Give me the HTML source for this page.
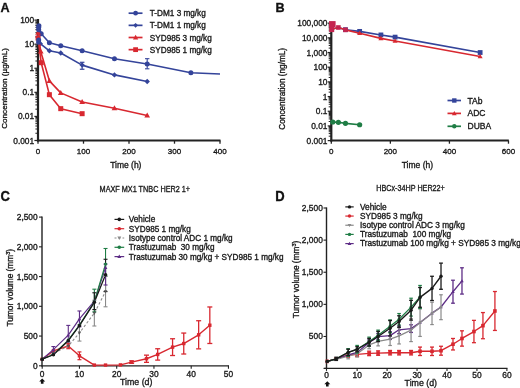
<!DOCTYPE html>
<html><head><meta charset="utf-8"><style>
html,body{margin:0;padding:0;background:#fff;}
svg{display:block;font-family:"Liberation Sans", sans-serif;filter:blur(0.3px);}
text{stroke:#161616;stroke-width:0.33px;}
</style></head><body>
<svg width="520" height="388" viewBox="0 0 520 388">
<rect width="520" height="388" fill="#fff"/>
<text x="0.60" y="11.80" font-size="12.6" text-anchor="start" font-weight="bold" fill="#111" >A</text>
<line x1="38.00" y1="19.00" x2="38.00" y2="141.50" stroke="#222" stroke-width="2.2" />
<line x1="34.40" y1="140.50" x2="38.00" y2="140.50" stroke="#222" stroke-width="1.2" />
<line x1="35.40" y1="133.25" x2="38.00" y2="133.25" stroke="#222" stroke-width="1.0" />
<line x1="35.40" y1="129.01" x2="38.00" y2="129.01" stroke="#222" stroke-width="1.0" />
<line x1="35.40" y1="126.00" x2="38.00" y2="126.00" stroke="#222" stroke-width="1.0" />
<line x1="35.40" y1="123.67" x2="38.00" y2="123.67" stroke="#222" stroke-width="1.0" />
<line x1="35.40" y1="121.76" x2="38.00" y2="121.76" stroke="#222" stroke-width="1.0" />
<line x1="35.40" y1="120.15" x2="38.00" y2="120.15" stroke="#222" stroke-width="1.0" />
<line x1="35.40" y1="118.75" x2="38.00" y2="118.75" stroke="#222" stroke-width="1.0" />
<line x1="35.40" y1="117.52" x2="38.00" y2="117.52" stroke="#222" stroke-width="1.0" />
<line x1="34.40" y1="116.42" x2="38.00" y2="116.42" stroke="#222" stroke-width="1.2" />
<line x1="35.40" y1="109.17" x2="38.00" y2="109.17" stroke="#222" stroke-width="1.0" />
<line x1="35.40" y1="104.93" x2="38.00" y2="104.93" stroke="#222" stroke-width="1.0" />
<line x1="35.40" y1="101.92" x2="38.00" y2="101.92" stroke="#222" stroke-width="1.0" />
<line x1="35.40" y1="99.59" x2="38.00" y2="99.59" stroke="#222" stroke-width="1.0" />
<line x1="35.40" y1="97.68" x2="38.00" y2="97.68" stroke="#222" stroke-width="1.0" />
<line x1="35.40" y1="96.07" x2="38.00" y2="96.07" stroke="#222" stroke-width="1.0" />
<line x1="35.40" y1="94.67" x2="38.00" y2="94.67" stroke="#222" stroke-width="1.0" />
<line x1="35.40" y1="93.44" x2="38.00" y2="93.44" stroke="#222" stroke-width="1.0" />
<line x1="34.40" y1="92.34" x2="38.00" y2="92.34" stroke="#222" stroke-width="1.2" />
<line x1="35.40" y1="85.09" x2="38.00" y2="85.09" stroke="#222" stroke-width="1.0" />
<line x1="35.40" y1="80.85" x2="38.00" y2="80.85" stroke="#222" stroke-width="1.0" />
<line x1="35.40" y1="77.84" x2="38.00" y2="77.84" stroke="#222" stroke-width="1.0" />
<line x1="35.40" y1="75.51" x2="38.00" y2="75.51" stroke="#222" stroke-width="1.0" />
<line x1="35.40" y1="73.60" x2="38.00" y2="73.60" stroke="#222" stroke-width="1.0" />
<line x1="35.40" y1="71.99" x2="38.00" y2="71.99" stroke="#222" stroke-width="1.0" />
<line x1="35.40" y1="70.59" x2="38.00" y2="70.59" stroke="#222" stroke-width="1.0" />
<line x1="35.40" y1="69.36" x2="38.00" y2="69.36" stroke="#222" stroke-width="1.0" />
<line x1="34.40" y1="68.26" x2="38.00" y2="68.26" stroke="#222" stroke-width="1.2" />
<line x1="35.40" y1="61.01" x2="38.00" y2="61.01" stroke="#222" stroke-width="1.0" />
<line x1="35.40" y1="56.77" x2="38.00" y2="56.77" stroke="#222" stroke-width="1.0" />
<line x1="35.40" y1="53.76" x2="38.00" y2="53.76" stroke="#222" stroke-width="1.0" />
<line x1="35.40" y1="51.43" x2="38.00" y2="51.43" stroke="#222" stroke-width="1.0" />
<line x1="35.40" y1="49.52" x2="38.00" y2="49.52" stroke="#222" stroke-width="1.0" />
<line x1="35.40" y1="47.91" x2="38.00" y2="47.91" stroke="#222" stroke-width="1.0" />
<line x1="35.40" y1="46.51" x2="38.00" y2="46.51" stroke="#222" stroke-width="1.0" />
<line x1="35.40" y1="45.28" x2="38.00" y2="45.28" stroke="#222" stroke-width="1.0" />
<line x1="34.40" y1="44.18" x2="38.00" y2="44.18" stroke="#222" stroke-width="1.2" />
<line x1="35.40" y1="36.93" x2="38.00" y2="36.93" stroke="#222" stroke-width="1.0" />
<line x1="35.40" y1="32.69" x2="38.00" y2="32.69" stroke="#222" stroke-width="1.0" />
<line x1="35.40" y1="29.68" x2="38.00" y2="29.68" stroke="#222" stroke-width="1.0" />
<line x1="35.40" y1="27.35" x2="38.00" y2="27.35" stroke="#222" stroke-width="1.0" />
<line x1="35.40" y1="25.44" x2="38.00" y2="25.44" stroke="#222" stroke-width="1.0" />
<line x1="35.40" y1="23.83" x2="38.00" y2="23.83" stroke="#222" stroke-width="1.0" />
<line x1="35.40" y1="22.43" x2="38.00" y2="22.43" stroke="#222" stroke-width="1.0" />
<line x1="35.40" y1="21.20" x2="38.00" y2="21.20" stroke="#222" stroke-width="1.0" />
<line x1="34.40" y1="20.10" x2="38.00" y2="20.10" stroke="#222" stroke-width="1.2" />
<text x="34.20" y="143.50" font-size="8.4" text-anchor="end" font-weight="normal" fill="#1c1c1c" >0.001</text>
<text x="34.20" y="119.42" font-size="8.4" text-anchor="end" font-weight="normal" fill="#1c1c1c" >0.01</text>
<text x="34.20" y="95.34" font-size="8.4" text-anchor="end" font-weight="normal" fill="#1c1c1c" >0.1</text>
<text x="34.20" y="71.26" font-size="8.4" text-anchor="end" font-weight="normal" fill="#1c1c1c" >1</text>
<text x="34.20" y="47.18" font-size="8.4" text-anchor="end" font-weight="normal" fill="#1c1c1c" >10</text>
<text x="34.20" y="23.10" font-size="8.4" text-anchor="end" font-weight="normal" fill="#1c1c1c" >100</text>
<line x1="37.00" y1="140.50" x2="220.50" y2="140.50" stroke="#222" stroke-width="1.9" />
<line x1="38.00" y1="140.50" x2="38.00" y2="143.70" stroke="#222" stroke-width="1.3" />
<text x="38.00" y="154.00" font-size="8" text-anchor="middle" font-weight="normal" fill="#1c1c1c" >0</text>
<line x1="83.50" y1="140.50" x2="83.50" y2="143.70" stroke="#222" stroke-width="1.3" />
<text x="83.50" y="154.00" font-size="8" text-anchor="middle" font-weight="normal" fill="#1c1c1c" >100</text>
<line x1="129.00" y1="140.50" x2="129.00" y2="143.70" stroke="#222" stroke-width="1.3" />
<text x="129.00" y="154.00" font-size="8" text-anchor="middle" font-weight="normal" fill="#1c1c1c" >200</text>
<line x1="174.50" y1="140.50" x2="174.50" y2="143.70" stroke="#222" stroke-width="1.3" />
<text x="174.50" y="154.00" font-size="8" text-anchor="middle" font-weight="normal" fill="#1c1c1c" >300</text>
<line x1="220.00" y1="140.50" x2="220.00" y2="143.70" stroke="#222" stroke-width="1.3" />
<text x="220.00" y="154.00" font-size="8" text-anchor="middle" font-weight="normal" fill="#1c1c1c" >400</text>
<text x="125.80" y="168.00" font-size="8.5" text-anchor="middle" font-weight="normal" fill="#1c1c1c" >Time (h)</text>
<text x="0.00" y="0.00" font-size="8.08" text-anchor="middle" font-weight="normal" fill="#1c1c1c" transform="translate(7.1,88.45) rotate(-90)">Concentration (µg/mL)</text>
<polyline points="38.91,25.80 41.19,33.79 49.38,42.72 60.75,45.76 82.13,50.82 114.44,58.68 147.20,64.02 190.88,72.77 220.00,73.96" fill="none" stroke="#34449a" stroke-width="1.6" stroke-linejoin="round" />
<circle cx="38.91" cy="25.80" r="2.5" fill="#34449a"/>
<circle cx="41.19" cy="33.79" r="2.5" fill="#34449a"/>
<circle cx="49.38" cy="42.72" r="2.5" fill="#34449a"/>
<circle cx="60.75" cy="45.76" r="2.5" fill="#34449a"/>
<circle cx="82.13" cy="50.82" r="2.5" fill="#34449a"/>
<circle cx="114.44" cy="58.68" r="2.5" fill="#34449a"/>
<circle cx="147.20" cy="64.02" r="2.5" fill="#34449a"/>
<circle cx="190.88" cy="72.77" r="2.5" fill="#34449a"/>
<line x1="147.20" y1="58.68" x2="147.20" y2="68.80" stroke="#34449a" stroke-width="1.1" />
<line x1="145.00" y1="58.68" x2="149.40" y2="58.68" stroke="#34449a" stroke-width="1.1" />
<line x1="145.00" y1="68.80" x2="149.40" y2="68.80" stroke="#34449a" stroke-width="1.1" />
<polyline points="38.05,36.93 40.27,43.67 49.38,50.82 60.75,53.01 82.13,65.12 114.44,74.90 147.20,81.57" fill="none" stroke="#34449a" stroke-width="1.6" stroke-linejoin="round" />
<polygon points="38.05,34.23 40.75,36.93 38.05,39.63 35.35,36.93" fill="#34449a"/>
<polygon points="40.27,40.97 42.98,43.67 40.27,46.37 37.57,43.67" fill="#34449a"/>
<polygon points="49.38,48.12 52.08,50.82 49.38,53.52 46.67,50.82" fill="#34449a"/>
<polygon points="60.75,50.31 63.45,53.01 60.75,55.71 58.05,53.01" fill="#34449a"/>
<polygon points="82.13,62.42 84.83,65.12 82.13,67.82 79.43,65.12" fill="#34449a"/>
<polygon points="114.44,72.20 117.14,74.90 114.44,77.60 111.74,74.90" fill="#34449a"/>
<polygon points="147.20,78.87 149.90,81.57 147.20,84.27 144.50,81.57" fill="#34449a"/>
<line x1="82.13" y1="62.29" x2="82.13" y2="69.25" stroke="#34449a" stroke-width="1.2" />
<line x1="79.83" y1="62.29" x2="84.43" y2="62.29" stroke="#34449a" stroke-width="1.2" />
<line x1="79.83" y1="69.25" x2="84.43" y2="69.25" stroke="#34449a" stroke-width="1.2" />
<polyline points="38.05,32.69 40.73,51.43 49.38,80.85 60.75,92.88 82.13,101.92 114.44,108.17 147.20,115.42" fill="none" stroke="#d82830" stroke-width="1.6" stroke-linejoin="round" />
<polygon points="38.05,29.83 40.91,34.77 35.19,34.77" fill="#d82830"/>
<polygon points="40.73,48.57 43.59,53.51 37.87,53.51" fill="#d82830"/>
<polygon points="49.38,77.99 52.23,82.93 46.52,82.93" fill="#d82830"/>
<polygon points="60.75,90.02 63.61,94.96 57.89,94.96" fill="#d82830"/>
<polygon points="82.13,99.06 84.99,104.00 79.27,104.00" fill="#d82830"/>
<polygon points="114.44,105.31 117.30,110.25 111.58,110.25" fill="#d82830"/>
<polygon points="147.20,112.56 150.06,117.50 144.34,117.50" fill="#d82830"/>
<polyline points="38.05,38.03 41.19,62.71 49.38,94.67 60.75,108.66 82.13,113.68" fill="none" stroke="#d82830" stroke-width="1.6" stroke-linejoin="round" />
<rect x="35.55" y="35.53" width="5.00" height="5.00" fill="#d82830"/>
<rect x="38.69" y="60.21" width="5.00" height="5.00" fill="#d82830"/>
<rect x="46.88" y="92.17" width="5.00" height="5.00" fill="#d82830"/>
<rect x="58.25" y="106.16" width="5.00" height="5.00" fill="#d82830"/>
<rect x="79.63" y="111.18" width="5.00" height="5.00" fill="#d82830"/>
<circle cx="38.68" cy="29.68" r="2.5" fill="#34449a"/>
<circle cx="38.68" cy="27.35" r="2.5" fill="#34449a"/>
<circle cx="38.68" cy="39.94" r="2.5" fill="#34449a"/>
<circle cx="38.68" cy="42.27" r="2.5" fill="#34449a"/>
<line x1="128.60" y1="13.20" x2="142.50" y2="13.20" stroke="#34449a" stroke-width="1.7" />
<circle cx="135.60" cy="13.20" r="2.4" fill="#34449a"/>
<text x="149.80" y="16.20" font-size="8.2" text-anchor="start" font-weight="normal" fill="#1c1c1c" >T-DM1 3 mg/kg</text>
<line x1="128.60" y1="25.35" x2="142.50" y2="25.35" stroke="#34449a" stroke-width="1.7" />
<polygon points="135.60,22.95 138.00,25.35 135.60,27.75 133.20,25.35" fill="#34449a"/>
<text x="149.80" y="28.35" font-size="8.2" text-anchor="start" font-weight="normal" fill="#1c1c1c" >T-DM1 1 mg/kg</text>
<line x1="128.60" y1="37.50" x2="142.50" y2="37.50" stroke="#d82830" stroke-width="1.7" />
<polygon points="135.60,34.86 138.24,39.42 132.96,39.42" fill="#d82830"/>
<text x="149.80" y="40.50" font-size="8.2" text-anchor="start" font-weight="normal" fill="#1c1c1c" >SYD985 3 mg/kg</text>
<line x1="128.60" y1="49.65" x2="142.50" y2="49.65" stroke="#d82830" stroke-width="1.7" />
<rect x="133.20" y="47.25" width="4.80" height="4.80" fill="#d82830"/>
<text x="149.80" y="52.65" font-size="8.2" text-anchor="start" font-weight="normal" fill="#1c1c1c" >SYD985 1 mg/kg</text>
<text x="275.60" y="11.80" font-size="12.6" text-anchor="start" font-weight="bold" fill="#111" >B</text>
<line x1="331.30" y1="22.50" x2="331.30" y2="141.50" stroke="#222" stroke-width="2.2" />
<line x1="327.70" y1="140.60" x2="331.30" y2="140.60" stroke="#222" stroke-width="1.2" />
<line x1="328.70" y1="136.18" x2="331.30" y2="136.18" stroke="#222" stroke-width="1.0" />
<line x1="328.70" y1="133.60" x2="331.30" y2="133.60" stroke="#222" stroke-width="1.0" />
<line x1="328.70" y1="131.76" x2="331.30" y2="131.76" stroke="#222" stroke-width="1.0" />
<line x1="328.70" y1="130.34" x2="331.30" y2="130.34" stroke="#222" stroke-width="1.0" />
<line x1="328.70" y1="129.18" x2="331.30" y2="129.18" stroke="#222" stroke-width="1.0" />
<line x1="328.70" y1="128.19" x2="331.30" y2="128.19" stroke="#222" stroke-width="1.0" />
<line x1="328.70" y1="127.34" x2="331.30" y2="127.34" stroke="#222" stroke-width="1.0" />
<line x1="328.70" y1="126.59" x2="331.30" y2="126.59" stroke="#222" stroke-width="1.0" />
<line x1="327.70" y1="125.92" x2="331.30" y2="125.92" stroke="#222" stroke-width="1.2" />
<line x1="328.70" y1="121.50" x2="331.30" y2="121.50" stroke="#222" stroke-width="1.0" />
<line x1="328.70" y1="118.92" x2="331.30" y2="118.92" stroke="#222" stroke-width="1.0" />
<line x1="328.70" y1="117.08" x2="331.30" y2="117.08" stroke="#222" stroke-width="1.0" />
<line x1="328.70" y1="115.66" x2="331.30" y2="115.66" stroke="#222" stroke-width="1.0" />
<line x1="328.70" y1="114.50" x2="331.30" y2="114.50" stroke="#222" stroke-width="1.0" />
<line x1="328.70" y1="113.51" x2="331.30" y2="113.51" stroke="#222" stroke-width="1.0" />
<line x1="328.70" y1="112.66" x2="331.30" y2="112.66" stroke="#222" stroke-width="1.0" />
<line x1="328.70" y1="111.91" x2="331.30" y2="111.91" stroke="#222" stroke-width="1.0" />
<line x1="327.70" y1="111.24" x2="331.30" y2="111.24" stroke="#222" stroke-width="1.2" />
<line x1="328.70" y1="106.82" x2="331.30" y2="106.82" stroke="#222" stroke-width="1.0" />
<line x1="328.70" y1="104.24" x2="331.30" y2="104.24" stroke="#222" stroke-width="1.0" />
<line x1="328.70" y1="102.40" x2="331.30" y2="102.40" stroke="#222" stroke-width="1.0" />
<line x1="328.70" y1="100.98" x2="331.30" y2="100.98" stroke="#222" stroke-width="1.0" />
<line x1="328.70" y1="99.82" x2="331.30" y2="99.82" stroke="#222" stroke-width="1.0" />
<line x1="328.70" y1="98.83" x2="331.30" y2="98.83" stroke="#222" stroke-width="1.0" />
<line x1="328.70" y1="97.98" x2="331.30" y2="97.98" stroke="#222" stroke-width="1.0" />
<line x1="328.70" y1="97.23" x2="331.30" y2="97.23" stroke="#222" stroke-width="1.0" />
<line x1="327.70" y1="96.56" x2="331.30" y2="96.56" stroke="#222" stroke-width="1.2" />
<line x1="328.70" y1="92.14" x2="331.30" y2="92.14" stroke="#222" stroke-width="1.0" />
<line x1="328.70" y1="89.56" x2="331.30" y2="89.56" stroke="#222" stroke-width="1.0" />
<line x1="328.70" y1="87.72" x2="331.30" y2="87.72" stroke="#222" stroke-width="1.0" />
<line x1="328.70" y1="86.30" x2="331.30" y2="86.30" stroke="#222" stroke-width="1.0" />
<line x1="328.70" y1="85.14" x2="331.30" y2="85.14" stroke="#222" stroke-width="1.0" />
<line x1="328.70" y1="84.15" x2="331.30" y2="84.15" stroke="#222" stroke-width="1.0" />
<line x1="328.70" y1="83.30" x2="331.30" y2="83.30" stroke="#222" stroke-width="1.0" />
<line x1="328.70" y1="82.55" x2="331.30" y2="82.55" stroke="#222" stroke-width="1.0" />
<line x1="327.70" y1="81.88" x2="331.30" y2="81.88" stroke="#222" stroke-width="1.2" />
<line x1="328.70" y1="77.46" x2="331.30" y2="77.46" stroke="#222" stroke-width="1.0" />
<line x1="328.70" y1="74.88" x2="331.30" y2="74.88" stroke="#222" stroke-width="1.0" />
<line x1="328.70" y1="73.04" x2="331.30" y2="73.04" stroke="#222" stroke-width="1.0" />
<line x1="328.70" y1="71.62" x2="331.30" y2="71.62" stroke="#222" stroke-width="1.0" />
<line x1="328.70" y1="70.46" x2="331.30" y2="70.46" stroke="#222" stroke-width="1.0" />
<line x1="328.70" y1="69.47" x2="331.30" y2="69.47" stroke="#222" stroke-width="1.0" />
<line x1="328.70" y1="68.62" x2="331.30" y2="68.62" stroke="#222" stroke-width="1.0" />
<line x1="328.70" y1="67.87" x2="331.30" y2="67.87" stroke="#222" stroke-width="1.0" />
<line x1="327.70" y1="67.20" x2="331.30" y2="67.20" stroke="#222" stroke-width="1.2" />
<line x1="328.70" y1="62.78" x2="331.30" y2="62.78" stroke="#222" stroke-width="1.0" />
<line x1="328.70" y1="60.20" x2="331.30" y2="60.20" stroke="#222" stroke-width="1.0" />
<line x1="328.70" y1="58.36" x2="331.30" y2="58.36" stroke="#222" stroke-width="1.0" />
<line x1="328.70" y1="56.94" x2="331.30" y2="56.94" stroke="#222" stroke-width="1.0" />
<line x1="328.70" y1="55.78" x2="331.30" y2="55.78" stroke="#222" stroke-width="1.0" />
<line x1="328.70" y1="54.79" x2="331.30" y2="54.79" stroke="#222" stroke-width="1.0" />
<line x1="328.70" y1="53.94" x2="331.30" y2="53.94" stroke="#222" stroke-width="1.0" />
<line x1="328.70" y1="53.19" x2="331.30" y2="53.19" stroke="#222" stroke-width="1.0" />
<line x1="327.70" y1="52.52" x2="331.30" y2="52.52" stroke="#222" stroke-width="1.2" />
<line x1="328.70" y1="48.10" x2="331.30" y2="48.10" stroke="#222" stroke-width="1.0" />
<line x1="328.70" y1="45.52" x2="331.30" y2="45.52" stroke="#222" stroke-width="1.0" />
<line x1="328.70" y1="43.68" x2="331.30" y2="43.68" stroke="#222" stroke-width="1.0" />
<line x1="328.70" y1="42.26" x2="331.30" y2="42.26" stroke="#222" stroke-width="1.0" />
<line x1="328.70" y1="41.10" x2="331.30" y2="41.10" stroke="#222" stroke-width="1.0" />
<line x1="328.70" y1="40.11" x2="331.30" y2="40.11" stroke="#222" stroke-width="1.0" />
<line x1="328.70" y1="39.26" x2="331.30" y2="39.26" stroke="#222" stroke-width="1.0" />
<line x1="328.70" y1="38.51" x2="331.30" y2="38.51" stroke="#222" stroke-width="1.0" />
<line x1="327.70" y1="37.84" x2="331.30" y2="37.84" stroke="#222" stroke-width="1.2" />
<line x1="328.70" y1="33.42" x2="331.30" y2="33.42" stroke="#222" stroke-width="1.0" />
<line x1="328.70" y1="30.84" x2="331.30" y2="30.84" stroke="#222" stroke-width="1.0" />
<line x1="328.70" y1="29.00" x2="331.30" y2="29.00" stroke="#222" stroke-width="1.0" />
<line x1="328.70" y1="27.58" x2="331.30" y2="27.58" stroke="#222" stroke-width="1.0" />
<line x1="328.70" y1="26.42" x2="331.30" y2="26.42" stroke="#222" stroke-width="1.0" />
<line x1="328.70" y1="25.43" x2="331.30" y2="25.43" stroke="#222" stroke-width="1.0" />
<line x1="328.70" y1="24.58" x2="331.30" y2="24.58" stroke="#222" stroke-width="1.0" />
<line x1="328.70" y1="23.83" x2="331.30" y2="23.83" stroke="#222" stroke-width="1.0" />
<line x1="327.70" y1="23.16" x2="331.30" y2="23.16" stroke="#222" stroke-width="1.2" />
<text x="327.50" y="143.60" font-size="8.4" text-anchor="end" font-weight="normal" fill="#1c1c1c" >0.001</text>
<text x="327.50" y="128.92" font-size="8.4" text-anchor="end" font-weight="normal" fill="#1c1c1c" >0.01</text>
<text x="327.50" y="114.24" font-size="8.4" text-anchor="end" font-weight="normal" fill="#1c1c1c" >0.1</text>
<text x="327.50" y="99.56" font-size="8.4" text-anchor="end" font-weight="normal" fill="#1c1c1c" >1</text>
<text x="327.50" y="84.88" font-size="8.4" text-anchor="end" font-weight="normal" fill="#1c1c1c" >10</text>
<text x="327.50" y="70.20" font-size="8.4" text-anchor="end" font-weight="normal" fill="#1c1c1c" >100</text>
<text x="327.50" y="55.52" font-size="8.4" text-anchor="end" font-weight="normal" fill="#1c1c1c" >1,000</text>
<text x="327.50" y="40.84" font-size="8.4" text-anchor="end" font-weight="normal" fill="#1c1c1c" >10,000</text>
<text x="327.50" y="26.16" font-size="8.4" text-anchor="end" font-weight="normal" fill="#1c1c1c" >100,000</text>
<line x1="330.30" y1="140.50" x2="508.80" y2="140.50" stroke="#222" stroke-width="1.9" />
<line x1="331.30" y1="140.50" x2="331.30" y2="143.70" stroke="#222" stroke-width="1.3" />
<text x="331.30" y="154.00" font-size="8" text-anchor="middle" font-weight="normal" fill="#1c1c1c" >0</text>
<line x1="390.36" y1="140.50" x2="390.36" y2="143.70" stroke="#222" stroke-width="1.3" />
<text x="390.36" y="154.00" font-size="8" text-anchor="middle" font-weight="normal" fill="#1c1c1c" >200</text>
<line x1="449.42" y1="140.50" x2="449.42" y2="143.70" stroke="#222" stroke-width="1.3" />
<text x="449.42" y="154.00" font-size="8" text-anchor="middle" font-weight="normal" fill="#1c1c1c" >400</text>
<line x1="508.48" y1="140.50" x2="508.48" y2="143.70" stroke="#222" stroke-width="1.3" />
<text x="508.48" y="154.00" font-size="8" text-anchor="middle" font-weight="normal" fill="#1c1c1c" >600</text>
<text x="417.40" y="168.00" font-size="8.5" text-anchor="middle" font-weight="normal" fill="#1c1c1c" >Time (h)</text>
<text x="0.00" y="0.00" font-size="8.22" text-anchor="middle" font-weight="normal" fill="#1c1c1c" transform="translate(284.6,88.8) rotate(-90)">Concentration (ng/mL)</text>
<polyline points="331.60,23.16 332.48,29.00 338.39,27.50 345.47,29.67 359.65,31.39 380.91,34.92 395.08,37.12 480.13,52.52" fill="none" stroke="#34449a" stroke-width="1.6" stroke-linejoin="round" />
<rect x="343.07" y="27.27" width="4.80" height="4.80" fill="#34449a"/>
<rect x="357.25" y="28.99" width="4.80" height="4.80" fill="#34449a"/>
<rect x="378.51" y="32.52" width="4.80" height="4.80" fill="#34449a"/>
<rect x="392.68" y="34.72" width="4.80" height="4.80" fill="#34449a"/>
<rect x="477.73" y="50.12" width="4.80" height="4.80" fill="#34449a"/>
<polyline points="331.60,23.16 332.48,29.00 338.39,27.50 345.47,29.85 359.65,33.20 380.91,38.40 395.08,41.00 480.13,56.45" fill="none" stroke="#d82830" stroke-width="1.6" stroke-linejoin="round" />
<polygon points="359.65,30.67 362.18,35.04 357.12,35.04" fill="#d82830"/>
<polygon points="380.91,35.87 383.44,40.24 378.38,40.24" fill="#d82830"/>
<polygon points="395.08,38.47 397.61,42.84 392.55,42.84" fill="#d82830"/>
<polygon points="480.13,53.92 482.66,58.29 477.60,58.29" fill="#d82830"/>
<rect x="329" y="21.1" width="6.6" height="6" fill="#c42550"/>
<rect x="329.2" y="26" width="5" height="6.1" fill="#c42550"/>
<rect x="336.09" y="25.20" width="4.60" height="4.60" fill="#c42550"/>
<rect x="343.17" y="27.55" width="4.60" height="4.60" fill="#c42550"/>
<polyline points="332.78,122.00 338.39,122.35 345.47,123.33 359.65,124.76" fill="none" stroke="#1f7d45" stroke-width="1.6" stroke-linejoin="round" />
<circle cx="332.78" cy="122.00" r="2.6" fill="#1f7d45"/>
<circle cx="338.39" cy="122.35" r="2.6" fill="#1f7d45"/>
<circle cx="345.47" cy="123.33" r="2.6" fill="#1f7d45"/>
<circle cx="359.65" cy="124.76" r="2.6" fill="#1f7d45"/>
<line x1="447.50" y1="100.50" x2="461.00" y2="100.50" stroke="#34449a" stroke-width="1.7" />
<rect x="452.10" y="98.30" width="4.40" height="4.40" fill="#34449a"/>
<text x="467.50" y="103.50" font-size="8.5" text-anchor="start" font-weight="normal" fill="#1c1c1c" >TAb</text>
<line x1="447.50" y1="113.40" x2="461.00" y2="113.40" stroke="#d82830" stroke-width="1.7" />
<polygon points="454.30,110.98 456.72,115.16 451.88,115.16" fill="#d82830"/>
<text x="467.50" y="116.40" font-size="8.5" text-anchor="start" font-weight="normal" fill="#1c1c1c" >ADC</text>
<line x1="447.50" y1="126.30" x2="461.00" y2="126.30" stroke="#1f7d45" stroke-width="1.7" />
<circle cx="454.30" cy="126.30" r="2.2" fill="#1f7d45"/>
<text x="467.50" y="129.30" font-size="8.5" text-anchor="start" font-weight="normal" fill="#1c1c1c" >DUBA</text>
<text font-size="13" font-weight="bold" fill="#111" transform="translate(0.5,201) scale(1,1.1)">C</text>
<text x="99.60" y="191.60" font-size="8.8" text-anchor="start" font-weight="normal" fill="#1c1c1c"  textLength="90.5" lengthAdjust="spacingAndGlyphs">MAXF MX1 TNBC HER2 1+</text>
<line x1="42.00" y1="216.40" x2="42.00" y2="366.40" stroke="#222" stroke-width="1.4" />
<line x1="39.00" y1="365.80" x2="42.00" y2="365.80" stroke="#222" stroke-width="1.1" />
<text x="37.70" y="368.80" font-size="8.4" text-anchor="end" font-weight="normal" fill="#1c1c1c" >0</text>
<line x1="39.00" y1="336.06" x2="42.00" y2="336.06" stroke="#222" stroke-width="1.1" />
<text x="37.70" y="339.06" font-size="8.4" text-anchor="end" font-weight="normal" fill="#1c1c1c" >500</text>
<line x1="39.00" y1="306.32" x2="42.00" y2="306.32" stroke="#222" stroke-width="1.1" />
<text x="37.70" y="309.32" font-size="8.4" text-anchor="end" font-weight="normal" fill="#1c1c1c" >1,000</text>
<line x1="39.00" y1="276.58" x2="42.00" y2="276.58" stroke="#222" stroke-width="1.1" />
<text x="37.70" y="279.58" font-size="8.4" text-anchor="end" font-weight="normal" fill="#1c1c1c" >1,500</text>
<line x1="39.00" y1="246.84" x2="42.00" y2="246.84" stroke="#222" stroke-width="1.1" />
<text x="37.70" y="249.84" font-size="8.4" text-anchor="end" font-weight="normal" fill="#1c1c1c" >2,000</text>
<line x1="39.00" y1="217.10" x2="42.00" y2="217.10" stroke="#222" stroke-width="1.1" />
<text x="37.70" y="220.10" font-size="8.4" text-anchor="end" font-weight="normal" fill="#1c1c1c" >2,500</text>
<line x1="41.40" y1="365.80" x2="229.00" y2="365.80" stroke="#222" stroke-width="1.3" />
<line x1="42.20" y1="365.80" x2="42.20" y2="368.80" stroke="#222" stroke-width="1.1" />
<text x="42.20" y="377.10" font-size="8.4" text-anchor="middle" font-weight="normal" fill="#1c1c1c" >0</text>
<line x1="79.45" y1="365.80" x2="79.45" y2="368.80" stroke="#222" stroke-width="1.1" />
<text x="79.45" y="377.10" font-size="8.4" text-anchor="middle" font-weight="normal" fill="#1c1c1c" >10</text>
<line x1="116.70" y1="365.80" x2="116.70" y2="368.80" stroke="#222" stroke-width="1.1" />
<text x="116.70" y="377.10" font-size="8.4" text-anchor="middle" font-weight="normal" fill="#1c1c1c" >20</text>
<line x1="153.95" y1="365.80" x2="153.95" y2="368.80" stroke="#222" stroke-width="1.1" />
<text x="153.95" y="377.10" font-size="8.4" text-anchor="middle" font-weight="normal" fill="#1c1c1c" >30</text>
<line x1="191.20" y1="365.80" x2="191.20" y2="368.80" stroke="#222" stroke-width="1.1" />
<text x="191.20" y="377.10" font-size="8.4" text-anchor="middle" font-weight="normal" fill="#1c1c1c" >40</text>
<line x1="228.45" y1="365.80" x2="228.45" y2="368.80" stroke="#222" stroke-width="1.1" />
<text x="228.45" y="377.10" font-size="8.4" text-anchor="middle" font-weight="normal" fill="#1c1c1c" >50</text>
<text x="136.20" y="385.20" font-size="8.8" text-anchor="middle" font-weight="normal" fill="#1c1c1c" >Time (d)</text>
<text font-size="8.3" text-anchor="middle" fill="#1c1c1c" transform="translate(13.1,287.7) rotate(-90)">Tumor volume (mm<tspan font-size="5.5" dy="-3">3</tspan><tspan dy="3">)</tspan></text>
<polygon points="42.20,378.40 45.20,381.40 43.50,381.40 43.50,383.80 40.90,383.80 40.90,381.40 39.20,381.40" fill="#111"/>
<polyline points="42.20,359.22 53.38,350.84 68.28,345.99 79.45,355.81 94.35,365.08 105.53,365.08 120.43,364.90 131.60,362.09 146.50,358.74 157.68,354.43 172.57,347.13 183.75,343.54 198.65,334.80 209.82,325.22" fill="none" stroke="#d82830" stroke-width="1.4" stroke-linejoin="round" />
<rect x="40.50" y="357.52" width="3.40" height="3.40" fill="#d82830"/>
<rect x="51.67" y="349.14" width="3.40" height="3.40" fill="#d82830"/>
<rect x="66.58" y="344.29" width="3.40" height="3.40" fill="#d82830"/>
<rect x="77.75" y="354.11" width="3.40" height="3.40" fill="#d82830"/>
<rect x="92.65" y="363.38" width="3.40" height="3.40" fill="#d82830"/>
<rect x="103.83" y="363.38" width="3.40" height="3.40" fill="#d82830"/>
<rect x="118.73" y="363.20" width="3.40" height="3.40" fill="#d82830"/>
<line x1="131.60" y1="360.89" x2="131.60" y2="363.29" stroke="#d82830" stroke-width="1.3" />
<line x1="129.10" y1="360.89" x2="134.10" y2="360.89" stroke="#d82830" stroke-width="1.3" />
<line x1="129.10" y1="363.29" x2="134.10" y2="363.29" stroke="#d82830" stroke-width="1.3" />
<rect x="129.90" y="360.39" width="3.40" height="3.40" fill="#d82830"/>
<line x1="146.50" y1="355.15" x2="146.50" y2="362.33" stroke="#d82830" stroke-width="1.3" />
<line x1="144.00" y1="355.15" x2="149.00" y2="355.15" stroke="#d82830" stroke-width="1.3" />
<line x1="144.00" y1="362.33" x2="149.00" y2="362.33" stroke="#d82830" stroke-width="1.3" />
<rect x="144.80" y="357.04" width="3.40" height="3.40" fill="#d82830"/>
<line x1="157.68" y1="348.74" x2="157.68" y2="360.11" stroke="#d82830" stroke-width="1.3" />
<line x1="155.18" y1="348.74" x2="160.18" y2="348.74" stroke="#d82830" stroke-width="1.3" />
<line x1="155.18" y1="360.11" x2="160.18" y2="360.11" stroke="#d82830" stroke-width="1.3" />
<rect x="155.98" y="352.73" width="3.40" height="3.40" fill="#d82830"/>
<line x1="172.57" y1="338.75" x2="172.57" y2="355.51" stroke="#d82830" stroke-width="1.3" />
<line x1="170.07" y1="338.75" x2="175.07" y2="338.75" stroke="#d82830" stroke-width="1.3" />
<line x1="170.07" y1="355.51" x2="175.07" y2="355.51" stroke="#d82830" stroke-width="1.3" />
<rect x="170.88" y="345.43" width="3.40" height="3.40" fill="#d82830"/>
<line x1="183.75" y1="333.06" x2="183.75" y2="354.01" stroke="#d82830" stroke-width="1.3" />
<line x1="181.25" y1="333.06" x2="186.25" y2="333.06" stroke="#d82830" stroke-width="1.3" />
<line x1="181.25" y1="354.01" x2="186.25" y2="354.01" stroke="#d82830" stroke-width="1.3" />
<rect x="182.05" y="341.84" width="3.40" height="3.40" fill="#d82830"/>
<line x1="198.65" y1="320.73" x2="198.65" y2="348.86" stroke="#d82830" stroke-width="1.3" />
<line x1="196.15" y1="320.73" x2="201.15" y2="320.73" stroke="#d82830" stroke-width="1.3" />
<line x1="196.15" y1="348.86" x2="201.15" y2="348.86" stroke="#d82830" stroke-width="1.3" />
<rect x="196.95" y="333.10" width="3.40" height="3.40" fill="#d82830"/>
<line x1="209.82" y1="306.97" x2="209.82" y2="343.48" stroke="#d82830" stroke-width="1.3" />
<line x1="207.32" y1="306.97" x2="212.32" y2="306.97" stroke="#d82830" stroke-width="1.3" />
<line x1="207.32" y1="343.48" x2="212.32" y2="343.48" stroke="#d82830" stroke-width="1.3" />
<rect x="208.12" y="323.52" width="3.40" height="3.40" fill="#d82830"/>
<line x1="68.28" y1="343.30" x2="68.28" y2="348.68" stroke="#d82830" stroke-width="1.2" />
<line x1="66.28" y1="343.30" x2="70.28" y2="343.30" stroke="#d82830" stroke-width="1.2" />
<line x1="66.28" y1="348.68" x2="70.28" y2="348.68" stroke="#d82830" stroke-width="1.2" />
<line x1="79.45" y1="351.91" x2="79.45" y2="359.70" stroke="#d82830" stroke-width="1.2" />
<line x1="77.45" y1="351.91" x2="81.45" y2="351.91" stroke="#d82830" stroke-width="1.2" />
<line x1="77.45" y1="359.70" x2="81.45" y2="359.70" stroke="#d82830" stroke-width="1.2" />
<polyline points="42.20,359.22 53.38,353.53 68.28,346.05 79.45,332.88 94.35,313.13 105.53,291.59" fill="none" stroke="#8a8a8a" stroke-width="1.1" stroke-linejoin="round" stroke-dasharray="2.5,2"/>
<polyline points="42.20,359.22 53.38,349.64 68.28,335.10 79.45,318.88 94.35,301.16 105.53,267.65" fill="none" stroke="#5e2d86" stroke-width="1.2" stroke-linejoin="round" />
<polyline points="42.20,359.22 53.38,354.43 68.28,340.06 79.45,325.10 94.35,301.76 105.53,264.06" fill="none" stroke="#1f7d45" stroke-width="1.2" stroke-linejoin="round" />
<polyline points="42.20,359.22 53.38,354.73 68.28,340.72 79.45,325.70 94.35,302.36 105.53,274.83" fill="none" stroke="#1a1a1a" stroke-width="1.3" stroke-linejoin="round" />
<line x1="53.38" y1="346.53" x2="53.38" y2="352.63" stroke="#5e2d86" stroke-width="1.1" />
<line x1="51.38" y1="346.53" x2="55.38" y2="346.53" stroke="#5e2d86" stroke-width="1.1" />
<line x1="51.38" y1="352.63" x2="55.38" y2="352.63" stroke="#5e2d86" stroke-width="1.1" />
<line x1="68.28" y1="325.40" x2="68.28" y2="341.86" stroke="#5e2d86" stroke-width="1.1" />
<line x1="66.28" y1="325.40" x2="70.28" y2="325.40" stroke="#5e2d86" stroke-width="1.1" />
<line x1="66.28" y1="341.86" x2="70.28" y2="341.86" stroke="#5e2d86" stroke-width="1.1" />
<line x1="79.45" y1="310.98" x2="79.45" y2="326.78" stroke="#5e2d86" stroke-width="1.1" />
<line x1="77.45" y1="310.98" x2="81.45" y2="310.98" stroke="#5e2d86" stroke-width="1.1" />
<line x1="77.45" y1="326.78" x2="81.45" y2="326.78" stroke="#5e2d86" stroke-width="1.1" />
<line x1="79.45" y1="324.68" x2="79.45" y2="341.08" stroke="#8a8a8a" stroke-width="1.1" />
<line x1="77.45" y1="324.68" x2="81.45" y2="324.68" stroke="#8a8a8a" stroke-width="1.1" />
<line x1="77.45" y1="341.08" x2="81.45" y2="341.08" stroke="#8a8a8a" stroke-width="1.1" />
<line x1="94.35" y1="300.26" x2="94.35" y2="326.00" stroke="#8a8a8a" stroke-width="1.1" />
<line x1="92.35" y1="300.26" x2="96.35" y2="300.26" stroke="#8a8a8a" stroke-width="1.1" />
<line x1="92.35" y1="326.00" x2="96.35" y2="326.00" stroke="#8a8a8a" stroke-width="1.1" />
<line x1="94.35" y1="289.19" x2="94.35" y2="311.94" stroke="#1f7d45" stroke-width="1.1" />
<line x1="92.35" y1="289.19" x2="96.35" y2="289.19" stroke="#1f7d45" stroke-width="1.1" />
<line x1="92.35" y1="311.94" x2="96.35" y2="311.94" stroke="#1f7d45" stroke-width="1.1" />
<line x1="94.35" y1="292.78" x2="94.35" y2="309.54" stroke="#1a1a1a" stroke-width="1.1" />
<line x1="92.35" y1="292.78" x2="96.35" y2="292.78" stroke="#1a1a1a" stroke-width="1.1" />
<line x1="92.35" y1="309.54" x2="96.35" y2="309.54" stroke="#1a1a1a" stroke-width="1.1" />
<line x1="105.53" y1="248.49" x2="105.53" y2="276.02" stroke="#1f7d45" stroke-width="1.1" />
<line x1="103.53" y1="248.49" x2="107.53" y2="248.49" stroke="#1f7d45" stroke-width="1.1" />
<line x1="103.53" y1="276.02" x2="107.53" y2="276.02" stroke="#1f7d45" stroke-width="1.1" />
<line x1="105.53" y1="259.27" x2="105.53" y2="291.59" stroke="#1a1a1a" stroke-width="1.1" />
<line x1="103.53" y1="259.27" x2="107.53" y2="259.27" stroke="#1a1a1a" stroke-width="1.1" />
<line x1="103.53" y1="291.59" x2="107.53" y2="291.59" stroke="#1a1a1a" stroke-width="1.1" />
<line x1="105.53" y1="276.38" x2="105.53" y2="306.79" stroke="#8a8a8a" stroke-width="1.1" />
<line x1="103.53" y1="276.38" x2="107.53" y2="276.38" stroke="#8a8a8a" stroke-width="1.1" />
<line x1="103.53" y1="306.79" x2="107.53" y2="306.79" stroke="#8a8a8a" stroke-width="1.1" />
<line x1="105.53" y1="264.06" x2="105.53" y2="285.00" stroke="#5e2d86" stroke-width="1.1" />
<line x1="103.53" y1="264.06" x2="107.53" y2="264.06" stroke="#5e2d86" stroke-width="1.1" />
<line x1="103.53" y1="285.00" x2="107.53" y2="285.00" stroke="#5e2d86" stroke-width="1.1" />
<polygon points="42.20,357.35 44.07,360.58 40.33,360.58" fill="#5e2d86"/>
<polygon points="53.38,347.77 55.24,351.00 51.51,351.00" fill="#5e2d86"/>
<polygon points="68.28,333.23 70.15,336.46 66.41,336.46" fill="#5e2d86"/>
<polygon points="79.45,317.01 81.32,320.24 77.58,320.24" fill="#5e2d86"/>
<polygon points="94.35,299.29 96.22,302.52 92.48,302.52" fill="#5e2d86"/>
<polygon points="105.53,265.78 107.40,269.01 103.66,269.01" fill="#5e2d86"/>
<circle cx="42.20" cy="359.22" r="1.6" fill="#1f7d45"/>
<circle cx="53.38" cy="354.43" r="1.6" fill="#1f7d45"/>
<circle cx="68.28" cy="340.06" r="1.6" fill="#1f7d45"/>
<circle cx="79.45" cy="325.10" r="1.6" fill="#1f7d45"/>
<circle cx="94.35" cy="301.76" r="1.6" fill="#1f7d45"/>
<circle cx="105.53" cy="264.06" r="1.6" fill="#1f7d45"/>
<polygon points="42.20,360.98 43.96,357.94 40.44,357.94" fill="#555"/>
<polygon points="53.38,355.29 55.13,352.25 51.62,352.25" fill="#555"/>
<polygon points="68.28,347.81 70.04,344.77 66.52,344.77" fill="#555"/>
<polygon points="79.45,334.64 81.21,331.60 77.69,331.60" fill="#555"/>
<polygon points="94.35,314.89 96.11,311.85 92.59,311.85" fill="#555"/>
<polygon points="105.53,293.35 107.29,290.31 103.77,290.31" fill="#555"/>
<circle cx="42.20" cy="359.22" r="1.8" fill="#1a1a1a"/>
<circle cx="53.38" cy="354.73" r="1.8" fill="#1a1a1a"/>
<circle cx="68.28" cy="340.72" r="1.8" fill="#1a1a1a"/>
<circle cx="79.45" cy="325.70" r="1.8" fill="#1a1a1a"/>
<circle cx="94.35" cy="302.36" r="1.8" fill="#1a1a1a"/>
<circle cx="105.53" cy="274.83" r="1.8" fill="#1a1a1a"/>
<line x1="114.50" y1="219.40" x2="124.20" y2="219.40" stroke="#1a1a1a" stroke-width="1.2" />
<circle cx="119.30" cy="219.40" r="1.8" fill="#1a1a1a"/>
<text x="128.80" y="222.30" font-size="8.2" text-anchor="start" font-weight="normal" fill="#1c1c1c" >Vehicle</text>
<line x1="114.50" y1="228.70" x2="124.20" y2="228.70" stroke="#d82830" stroke-width="1.2" />
<circle cx="119.30" cy="228.70" r="1.8" fill="#d82830"/>
<text x="128.80" y="231.60" font-size="8.2" text-anchor="start" font-weight="normal" fill="#1c1c1c" >SYD985 1 mg/kg</text>
<line x1="114.50" y1="238.00" x2="124.20" y2="238.00" stroke="#8a8a8a" stroke-width="1.2" stroke-dasharray="2,2"/>
<polygon points="119.30,239.98 121.28,236.56 117.32,236.56" fill="#8a8a8a"/>
<text x="128.80" y="240.90" font-size="8.2" text-anchor="start" font-weight="normal" fill="#1c1c1c" >Isotype control ADC 1 mg/kg</text>
<line x1="114.50" y1="247.30" x2="124.20" y2="247.30" stroke="#1f7d45" stroke-width="1.2" />
<circle cx="119.30" cy="247.30" r="1.8" fill="#1f7d45"/>
<text x="128.80" y="250.20" font-size="8.2" text-anchor="start" font-weight="normal" fill="#1c1c1c" >Trastuzumab&#160; 30 mg/kg</text>
<line x1="114.50" y1="256.60" x2="124.20" y2="256.60" stroke="#5e2d86" stroke-width="1.2" />
<polygon points="119.30,254.62 121.28,258.04 117.32,258.04" fill="#5e2d86"/>
<text x="128.80" y="259.50" font-size="8.2" text-anchor="start" font-weight="normal" fill="#1c1c1c" >Trastuzumab 30 mg/kg + SYD985 1 mg/kg</text>
<text font-size="13" font-weight="bold" fill="#111" transform="translate(275.2,201) scale(1,1.1)">D</text>
<text x="376.30" y="191.00" font-size="8.8" text-anchor="start" font-weight="normal" fill="#1c1c1c"  textLength="68.5" lengthAdjust="spacingAndGlyphs">HBCx-34HP HER22+</text>
<line x1="326.50" y1="207.40" x2="326.50" y2="369.00" stroke="#222" stroke-width="1.4" />
<line x1="323.50" y1="368.40" x2="326.50" y2="368.40" stroke="#222" stroke-width="1.1" />
<line x1="323.50" y1="336.48" x2="326.50" y2="336.48" stroke="#222" stroke-width="1.1" />
<text x="322.80" y="339.48" font-size="8.4" text-anchor="end" font-weight="normal" fill="#1c1c1c" >500</text>
<line x1="323.50" y1="304.36" x2="326.50" y2="304.36" stroke="#222" stroke-width="1.1" />
<text x="322.80" y="307.36" font-size="8.4" text-anchor="end" font-weight="normal" fill="#1c1c1c" >1,000</text>
<line x1="323.50" y1="272.24" x2="326.50" y2="272.24" stroke="#222" stroke-width="1.1" />
<text x="322.80" y="275.24" font-size="8.4" text-anchor="end" font-weight="normal" fill="#1c1c1c" >1,500</text>
<line x1="323.50" y1="240.12" x2="326.50" y2="240.12" stroke="#222" stroke-width="1.1" />
<text x="322.80" y="243.12" font-size="8.4" text-anchor="end" font-weight="normal" fill="#1c1c1c" >2,000</text>
<line x1="323.50" y1="208.00" x2="326.50" y2="208.00" stroke="#222" stroke-width="1.1" />
<text x="322.80" y="211.00" font-size="8.4" text-anchor="end" font-weight="normal" fill="#1c1c1c" >2,500</text>
<line x1="324.30" y1="368.40" x2="507.50" y2="368.40" stroke="#222" stroke-width="1.3" />
<line x1="326.50" y1="368.40" x2="326.50" y2="370.90" stroke="#222" stroke-width="1.1" />
<text x="326.50" y="378.00" font-size="8.4" text-anchor="middle" font-weight="normal" fill="#1c1c1c" >0</text>
<line x1="357.15" y1="368.40" x2="357.15" y2="370.90" stroke="#222" stroke-width="1.1" />
<text x="357.15" y="378.00" font-size="8.4" text-anchor="middle" font-weight="normal" fill="#1c1c1c" >10</text>
<line x1="387.10" y1="368.40" x2="387.10" y2="370.90" stroke="#222" stroke-width="1.1" />
<text x="387.10" y="378.00" font-size="8.4" text-anchor="middle" font-weight="normal" fill="#1c1c1c" >20</text>
<line x1="417.05" y1="368.40" x2="417.05" y2="370.90" stroke="#222" stroke-width="1.1" />
<text x="417.05" y="378.00" font-size="8.4" text-anchor="middle" font-weight="normal" fill="#1c1c1c" >30</text>
<line x1="447.00" y1="368.40" x2="447.00" y2="370.90" stroke="#222" stroke-width="1.1" />
<text x="447.00" y="378.00" font-size="8.4" text-anchor="middle" font-weight="normal" fill="#1c1c1c" >40</text>
<line x1="476.95" y1="368.40" x2="476.95" y2="370.90" stroke="#222" stroke-width="1.1" />
<text x="476.95" y="378.00" font-size="8.4" text-anchor="middle" font-weight="normal" fill="#1c1c1c" >50</text>
<line x1="506.90" y1="368.40" x2="506.90" y2="370.90" stroke="#222" stroke-width="1.1" />
<text x="506.90" y="378.00" font-size="8.4" text-anchor="middle" font-weight="normal" fill="#1c1c1c" >60</text>
<text x="420.80" y="385.80" font-size="8.8" text-anchor="middle" font-weight="normal" fill="#1c1c1c" >Time (d)</text>
<text font-size="8.33" text-anchor="middle" fill="#1c1c1c" transform="translate(299.1,279.5) rotate(-90)">Tumor volume (mm<tspan font-size="5.5" dy="-3">3</tspan><tspan dy="3">)</tspan></text>
<polygon points="327.30,381.20 330.30,384.20 328.60,384.20 328.60,386.60 326.00,386.60 326.00,384.20 324.30,384.20" fill="#111"/>
<polyline points="327.20,361.38 336.19,358.83 348.16,355.00 357.15,354.36 369.13,353.41 378.12,353.09 390.09,352.71 399.08,352.71 411.06,352.71 420.04,351.30 432.02,351.30 441.01,350.73 452.99,344.22 461.98,338.48 473.95,331.52 482.94,325.65 494.92,310.98" fill="none" stroke="#d82830" stroke-width="1.4" stroke-linejoin="round" />
<rect x="325.40" y="359.58" width="3.60" height="3.60" fill="#d82830"/>
<rect x="334.38" y="357.03" width="3.60" height="3.60" fill="#d82830"/>
<line x1="348.16" y1="352.77" x2="348.16" y2="357.23" stroke="#d82830" stroke-width="1.3" />
<line x1="346.16" y1="352.77" x2="350.16" y2="352.77" stroke="#d82830" stroke-width="1.3" />
<line x1="346.16" y1="357.23" x2="350.16" y2="357.23" stroke="#d82830" stroke-width="1.3" />
<rect x="346.36" y="353.20" width="3.60" height="3.60" fill="#d82830"/>
<line x1="357.15" y1="352.13" x2="357.15" y2="356.60" stroke="#d82830" stroke-width="1.3" />
<line x1="355.15" y1="352.13" x2="359.15" y2="352.13" stroke="#d82830" stroke-width="1.3" />
<line x1="355.15" y1="356.60" x2="359.15" y2="356.60" stroke="#d82830" stroke-width="1.3" />
<rect x="355.35" y="352.56" width="3.60" height="3.60" fill="#d82830"/>
<line x1="369.13" y1="351.17" x2="369.13" y2="355.64" stroke="#d82830" stroke-width="1.3" />
<line x1="367.13" y1="351.17" x2="371.13" y2="351.17" stroke="#d82830" stroke-width="1.3" />
<line x1="367.13" y1="355.64" x2="371.13" y2="355.64" stroke="#d82830" stroke-width="1.3" />
<rect x="367.33" y="351.61" width="3.60" height="3.60" fill="#d82830"/>
<line x1="378.12" y1="350.85" x2="378.12" y2="355.32" stroke="#d82830" stroke-width="1.3" />
<line x1="376.12" y1="350.85" x2="380.12" y2="350.85" stroke="#d82830" stroke-width="1.3" />
<line x1="376.12" y1="355.32" x2="380.12" y2="355.32" stroke="#d82830" stroke-width="1.3" />
<rect x="376.31" y="351.29" width="3.60" height="3.60" fill="#d82830"/>
<line x1="390.09" y1="350.47" x2="390.09" y2="354.94" stroke="#d82830" stroke-width="1.3" />
<line x1="388.09" y1="350.47" x2="392.09" y2="350.47" stroke="#d82830" stroke-width="1.3" />
<line x1="388.09" y1="354.94" x2="392.09" y2="354.94" stroke="#d82830" stroke-width="1.3" />
<rect x="388.29" y="350.91" width="3.60" height="3.60" fill="#d82830"/>
<line x1="399.08" y1="350.47" x2="399.08" y2="354.94" stroke="#d82830" stroke-width="1.3" />
<line x1="397.08" y1="350.47" x2="401.08" y2="350.47" stroke="#d82830" stroke-width="1.3" />
<line x1="397.08" y1="354.94" x2="401.08" y2="354.94" stroke="#d82830" stroke-width="1.3" />
<rect x="397.28" y="350.91" width="3.60" height="3.60" fill="#d82830"/>
<line x1="411.06" y1="350.47" x2="411.06" y2="354.94" stroke="#d82830" stroke-width="1.3" />
<line x1="409.06" y1="350.47" x2="413.06" y2="350.47" stroke="#d82830" stroke-width="1.3" />
<line x1="409.06" y1="354.94" x2="413.06" y2="354.94" stroke="#d82830" stroke-width="1.3" />
<rect x="409.26" y="350.91" width="3.60" height="3.60" fill="#d82830"/>
<line x1="420.04" y1="347.09" x2="420.04" y2="355.51" stroke="#d82830" stroke-width="1.3" />
<line x1="418.04" y1="347.09" x2="422.04" y2="347.09" stroke="#d82830" stroke-width="1.3" />
<line x1="418.04" y1="355.51" x2="422.04" y2="355.51" stroke="#d82830" stroke-width="1.3" />
<rect x="418.24" y="349.50" width="3.60" height="3.60" fill="#d82830"/>
<line x1="432.02" y1="347.09" x2="432.02" y2="355.51" stroke="#d82830" stroke-width="1.3" />
<line x1="430.02" y1="347.09" x2="434.02" y2="347.09" stroke="#d82830" stroke-width="1.3" />
<line x1="430.02" y1="355.51" x2="434.02" y2="355.51" stroke="#d82830" stroke-width="1.3" />
<rect x="430.22" y="349.50" width="3.60" height="3.60" fill="#d82830"/>
<line x1="441.01" y1="346.26" x2="441.01" y2="355.19" stroke="#d82830" stroke-width="1.3" />
<line x1="439.01" y1="346.26" x2="443.01" y2="346.26" stroke="#d82830" stroke-width="1.3" />
<line x1="439.01" y1="355.19" x2="443.01" y2="355.19" stroke="#d82830" stroke-width="1.3" />
<rect x="439.21" y="348.93" width="3.60" height="3.60" fill="#d82830"/>
<line x1="452.99" y1="338.48" x2="452.99" y2="349.96" stroke="#d82830" stroke-width="1.3" />
<line x1="450.99" y1="338.48" x2="454.99" y2="338.48" stroke="#d82830" stroke-width="1.3" />
<line x1="450.99" y1="349.96" x2="454.99" y2="349.96" stroke="#d82830" stroke-width="1.3" />
<rect x="451.19" y="342.42" width="3.60" height="3.60" fill="#d82830"/>
<line x1="461.98" y1="330.82" x2="461.98" y2="346.13" stroke="#d82830" stroke-width="1.3" />
<line x1="459.98" y1="330.82" x2="463.98" y2="330.82" stroke="#d82830" stroke-width="1.3" />
<line x1="459.98" y1="346.13" x2="463.98" y2="346.13" stroke="#d82830" stroke-width="1.3" />
<rect x="460.18" y="336.68" width="3.60" height="3.60" fill="#d82830"/>
<line x1="473.95" y1="320.36" x2="473.95" y2="342.69" stroke="#d82830" stroke-width="1.3" />
<line x1="471.95" y1="320.36" x2="475.95" y2="320.36" stroke="#d82830" stroke-width="1.3" />
<line x1="471.95" y1="342.69" x2="475.95" y2="342.69" stroke="#d82830" stroke-width="1.3" />
<rect x="472.15" y="329.72" width="3.60" height="3.60" fill="#d82830"/>
<line x1="482.94" y1="312.57" x2="482.94" y2="338.73" stroke="#d82830" stroke-width="1.3" />
<line x1="480.94" y1="312.57" x2="484.94" y2="312.57" stroke="#d82830" stroke-width="1.3" />
<line x1="480.94" y1="338.73" x2="484.94" y2="338.73" stroke="#d82830" stroke-width="1.3" />
<rect x="481.14" y="323.85" width="3.60" height="3.60" fill="#d82830"/>
<line x1="494.92" y1="291.52" x2="494.92" y2="330.44" stroke="#d82830" stroke-width="1.3" />
<line x1="492.92" y1="291.52" x2="496.92" y2="291.52" stroke="#d82830" stroke-width="1.3" />
<line x1="492.92" y1="330.44" x2="496.92" y2="330.44" stroke="#d82830" stroke-width="1.3" />
<rect x="493.12" y="309.18" width="3.60" height="3.60" fill="#d82830"/>
<polyline points="327.20,361.38 336.19,359.15 348.16,355.00 357.15,352.45 369.13,342.50 378.12,336.69 390.09,335.61 399.08,329.80 411.06,328.59 420.04,322.46 432.02,313.15 441.01,307.02 452.99,291.71 461.98,280.93" fill="none" stroke="#5e2d86" stroke-width="1.3" stroke-linejoin="round" />
<polygon points="327.20,359.62 328.96,362.66 325.44,362.66" fill="#5e2d86"/>
<polygon points="336.19,357.39 337.94,360.43 334.43,360.43" fill="#5e2d86"/>
<polygon points="348.16,353.24 349.92,356.28 346.40,356.28" fill="#5e2d86"/>
<polygon points="357.15,350.69 358.91,353.73 355.39,353.73" fill="#5e2d86"/>
<line x1="369.13" y1="339.95" x2="369.13" y2="345.05" stroke="#5e2d86" stroke-width="1.3" />
<line x1="367.23" y1="339.95" x2="371.03" y2="339.95" stroke="#5e2d86" stroke-width="1.3" />
<line x1="367.23" y1="345.05" x2="371.03" y2="345.05" stroke="#5e2d86" stroke-width="1.3" />
<polygon points="369.13,340.74 370.89,343.78 367.37,343.78" fill="#5e2d86"/>
<line x1="378.12" y1="333.50" x2="378.12" y2="339.88" stroke="#5e2d86" stroke-width="1.3" />
<line x1="376.22" y1="333.50" x2="380.01" y2="333.50" stroke="#5e2d86" stroke-width="1.3" />
<line x1="376.22" y1="339.88" x2="380.01" y2="339.88" stroke="#5e2d86" stroke-width="1.3" />
<polygon points="378.12,334.93 379.88,337.97 376.36,337.97" fill="#5e2d86"/>
<line x1="390.09" y1="331.78" x2="390.09" y2="339.43" stroke="#5e2d86" stroke-width="1.3" />
<line x1="388.19" y1="331.78" x2="391.99" y2="331.78" stroke="#5e2d86" stroke-width="1.3" />
<line x1="388.19" y1="339.43" x2="391.99" y2="339.43" stroke="#5e2d86" stroke-width="1.3" />
<polygon points="390.09,333.85 391.85,336.89 388.33,336.89" fill="#5e2d86"/>
<line x1="399.08" y1="325.97" x2="399.08" y2="333.63" stroke="#5e2d86" stroke-width="1.3" />
<line x1="397.18" y1="325.97" x2="400.98" y2="325.97" stroke="#5e2d86" stroke-width="1.3" />
<line x1="397.18" y1="333.63" x2="400.98" y2="333.63" stroke="#5e2d86" stroke-width="1.3" />
<polygon points="399.08,328.04 400.84,331.08 397.32,331.08" fill="#5e2d86"/>
<line x1="411.06" y1="324.76" x2="411.06" y2="332.42" stroke="#5e2d86" stroke-width="1.3" />
<line x1="409.16" y1="324.76" x2="412.96" y2="324.76" stroke="#5e2d86" stroke-width="1.3" />
<line x1="409.16" y1="332.42" x2="412.96" y2="332.42" stroke="#5e2d86" stroke-width="1.3" />
<polygon points="411.06,326.83 412.82,329.87 409.30,329.87" fill="#5e2d86"/>
<polygon points="420.04,320.70 421.80,323.74 418.28,323.74" fill="#5e2d86"/>
<polygon points="432.02,311.39 433.78,314.43 430.26,314.43" fill="#5e2d86"/>
<polygon points="441.01,305.26 442.77,308.30 439.25,308.30" fill="#5e2d86"/>
<line x1="452.99" y1="280.23" x2="452.99" y2="303.20" stroke="#5e2d86" stroke-width="1.3" />
<line x1="451.09" y1="280.23" x2="454.89" y2="280.23" stroke="#5e2d86" stroke-width="1.3" />
<line x1="451.09" y1="303.20" x2="454.89" y2="303.20" stroke="#5e2d86" stroke-width="1.3" />
<polygon points="452.99,289.95 454.75,292.99 451.23,292.99" fill="#5e2d86"/>
<line x1="461.98" y1="267.79" x2="461.98" y2="294.07" stroke="#5e2d86" stroke-width="1.3" />
<line x1="460.08" y1="267.79" x2="463.88" y2="267.79" stroke="#5e2d86" stroke-width="1.3" />
<line x1="460.08" y1="294.07" x2="463.88" y2="294.07" stroke="#5e2d86" stroke-width="1.3" />
<polygon points="461.98,279.17 463.74,282.21 460.22,282.21" fill="#5e2d86"/>
<polyline points="327.20,361.38 336.19,359.47 348.16,356.28 357.15,353.73 369.13,344.92 378.12,341.41 390.09,339.12 399.08,335.86 411.06,330.12 420.04,322.72 432.02,313.40 441.01,307.22" fill="none" stroke="#8a8a8a" stroke-width="1.2" stroke-linejoin="round" />
<polygon points="327.20,363.03 328.85,360.18 325.55,360.18" fill="#8a8a8a"/>
<polygon points="336.19,361.12 337.83,358.27 334.54,358.27" fill="#8a8a8a"/>
<line x1="348.16" y1="353.73" x2="348.16" y2="358.83" stroke="#8a8a8a" stroke-width="1.2" />
<line x1="346.36" y1="353.73" x2="349.96" y2="353.73" stroke="#8a8a8a" stroke-width="1.2" />
<line x1="346.36" y1="358.83" x2="349.96" y2="358.83" stroke="#8a8a8a" stroke-width="1.2" />
<polygon points="348.16,357.93 349.81,355.08 346.51,355.08" fill="#8a8a8a"/>
<line x1="357.15" y1="350.54" x2="357.15" y2="356.92" stroke="#8a8a8a" stroke-width="1.2" />
<line x1="355.35" y1="350.54" x2="358.95" y2="350.54" stroke="#8a8a8a" stroke-width="1.2" />
<line x1="355.35" y1="356.92" x2="358.95" y2="356.92" stroke="#8a8a8a" stroke-width="1.2" />
<polygon points="357.15,355.38 358.80,352.53 355.50,352.53" fill="#8a8a8a"/>
<line x1="369.13" y1="341.09" x2="369.13" y2="348.75" stroke="#8a8a8a" stroke-width="1.2" />
<line x1="367.33" y1="341.09" x2="370.93" y2="341.09" stroke="#8a8a8a" stroke-width="1.2" />
<line x1="367.33" y1="348.75" x2="370.93" y2="348.75" stroke="#8a8a8a" stroke-width="1.2" />
<polygon points="369.13,346.57 370.78,343.72 367.48,343.72" fill="#8a8a8a"/>
<line x1="378.12" y1="336.95" x2="378.12" y2="345.88" stroke="#8a8a8a" stroke-width="1.2" />
<line x1="376.31" y1="336.95" x2="379.92" y2="336.95" stroke="#8a8a8a" stroke-width="1.2" />
<line x1="376.31" y1="345.88" x2="379.92" y2="345.88" stroke="#8a8a8a" stroke-width="1.2" />
<polygon points="378.12,343.06 379.76,340.21 376.47,340.21" fill="#8a8a8a"/>
<line x1="390.09" y1="332.74" x2="390.09" y2="345.50" stroke="#8a8a8a" stroke-width="1.2" />
<line x1="388.29" y1="332.74" x2="391.89" y2="332.74" stroke="#8a8a8a" stroke-width="1.2" />
<line x1="388.29" y1="345.50" x2="391.89" y2="345.50" stroke="#8a8a8a" stroke-width="1.2" />
<polygon points="390.09,340.77 391.74,337.92 388.44,337.92" fill="#8a8a8a"/>
<line x1="399.08" y1="327.76" x2="399.08" y2="343.96" stroke="#8a8a8a" stroke-width="1.2" />
<line x1="397.28" y1="327.76" x2="400.88" y2="327.76" stroke="#8a8a8a" stroke-width="1.2" />
<line x1="397.28" y1="343.96" x2="400.88" y2="343.96" stroke="#8a8a8a" stroke-width="1.2" />
<polygon points="399.08,337.51 400.73,334.66 397.43,334.66" fill="#8a8a8a"/>
<line x1="411.06" y1="318.64" x2="411.06" y2="341.60" stroke="#8a8a8a" stroke-width="1.2" />
<line x1="409.26" y1="318.64" x2="412.86" y2="318.64" stroke="#8a8a8a" stroke-width="1.2" />
<line x1="409.26" y1="341.60" x2="412.86" y2="341.60" stroke="#8a8a8a" stroke-width="1.2" />
<polygon points="411.06,331.77 412.71,328.92 409.41,328.92" fill="#8a8a8a"/>
<line x1="420.04" y1="309.00" x2="420.04" y2="336.44" stroke="#8a8a8a" stroke-width="1.2" />
<line x1="418.24" y1="309.00" x2="421.84" y2="309.00" stroke="#8a8a8a" stroke-width="1.2" />
<line x1="418.24" y1="336.44" x2="421.84" y2="336.44" stroke="#8a8a8a" stroke-width="1.2" />
<polygon points="420.04,324.37 421.69,321.52 418.39,321.52" fill="#8a8a8a"/>
<line x1="432.02" y1="302.24" x2="432.02" y2="324.57" stroke="#8a8a8a" stroke-width="1.2" />
<line x1="430.22" y1="302.24" x2="433.82" y2="302.24" stroke="#8a8a8a" stroke-width="1.2" />
<line x1="430.22" y1="324.57" x2="433.82" y2="324.57" stroke="#8a8a8a" stroke-width="1.2" />
<polygon points="432.02,315.05 433.67,312.20 430.38,312.20" fill="#8a8a8a"/>
<line x1="441.01" y1="294.77" x2="441.01" y2="319.66" stroke="#8a8a8a" stroke-width="1.2" />
<line x1="439.21" y1="294.77" x2="442.81" y2="294.77" stroke="#8a8a8a" stroke-width="1.2" />
<line x1="439.21" y1="319.66" x2="442.81" y2="319.66" stroke="#8a8a8a" stroke-width="1.2" />
<polygon points="441.01,308.87 442.66,306.02 439.36,306.02" fill="#8a8a8a"/>
<polyline points="327.20,361.38 336.19,358.83 348.16,352.45 357.15,349.26 369.13,341.60 378.12,335.22 390.09,326.29 399.08,319.27 411.06,307.15 420.04,296.94" fill="none" stroke="#1f7d45" stroke-width="1.2" stroke-linejoin="round" />
<circle cx="327.20" cy="361.38" r="1.6" fill="#1f7d45"/>
<circle cx="336.19" cy="358.83" r="1.6" fill="#1f7d45"/>
<line x1="348.16" y1="348.62" x2="348.16" y2="356.28" stroke="#1f7d45" stroke-width="1.2" />
<line x1="346.36" y1="348.62" x2="349.96" y2="348.62" stroke="#1f7d45" stroke-width="1.2" />
<line x1="346.36" y1="356.28" x2="349.96" y2="356.28" stroke="#1f7d45" stroke-width="1.2" />
<circle cx="348.16" cy="352.45" r="1.6" fill="#1f7d45"/>
<line x1="357.15" y1="345.43" x2="357.15" y2="353.09" stroke="#1f7d45" stroke-width="1.2" />
<line x1="355.35" y1="345.43" x2="358.95" y2="345.43" stroke="#1f7d45" stroke-width="1.2" />
<line x1="355.35" y1="353.09" x2="358.95" y2="353.09" stroke="#1f7d45" stroke-width="1.2" />
<circle cx="357.15" cy="349.26" r="1.6" fill="#1f7d45"/>
<line x1="369.13" y1="337.14" x2="369.13" y2="346.07" stroke="#1f7d45" stroke-width="1.2" />
<line x1="367.33" y1="337.14" x2="370.93" y2="337.14" stroke="#1f7d45" stroke-width="1.2" />
<line x1="367.33" y1="346.07" x2="370.93" y2="346.07" stroke="#1f7d45" stroke-width="1.2" />
<circle cx="369.13" cy="341.60" r="1.6" fill="#1f7d45"/>
<line x1="378.12" y1="330.12" x2="378.12" y2="340.33" stroke="#1f7d45" stroke-width="1.2" />
<line x1="376.31" y1="330.12" x2="379.92" y2="330.12" stroke="#1f7d45" stroke-width="1.2" />
<line x1="376.31" y1="340.33" x2="379.92" y2="340.33" stroke="#1f7d45" stroke-width="1.2" />
<circle cx="378.12" cy="335.22" r="1.6" fill="#1f7d45"/>
<line x1="390.09" y1="319.91" x2="390.09" y2="332.67" stroke="#1f7d45" stroke-width="1.2" />
<line x1="388.29" y1="319.91" x2="391.89" y2="319.91" stroke="#1f7d45" stroke-width="1.2" />
<line x1="388.29" y1="332.67" x2="391.89" y2="332.67" stroke="#1f7d45" stroke-width="1.2" />
<circle cx="390.09" cy="326.29" r="1.6" fill="#1f7d45"/>
<line x1="399.08" y1="313.53" x2="399.08" y2="325.02" stroke="#1f7d45" stroke-width="1.2" />
<line x1="397.28" y1="313.53" x2="400.88" y2="313.53" stroke="#1f7d45" stroke-width="1.2" />
<line x1="397.28" y1="325.02" x2="400.88" y2="325.02" stroke="#1f7d45" stroke-width="1.2" />
<circle cx="399.08" cy="319.27" r="1.6" fill="#1f7d45"/>
<line x1="411.06" y1="298.22" x2="411.06" y2="316.08" stroke="#1f7d45" stroke-width="1.2" />
<line x1="409.26" y1="298.22" x2="412.86" y2="298.22" stroke="#1f7d45" stroke-width="1.2" />
<line x1="409.26" y1="316.08" x2="412.86" y2="316.08" stroke="#1f7d45" stroke-width="1.2" />
<circle cx="411.06" cy="307.15" r="1.6" fill="#1f7d45"/>
<line x1="420.04" y1="285.46" x2="420.04" y2="308.43" stroke="#1f7d45" stroke-width="1.2" />
<line x1="418.24" y1="285.46" x2="421.84" y2="285.46" stroke="#1f7d45" stroke-width="1.2" />
<line x1="418.24" y1="308.43" x2="421.84" y2="308.43" stroke="#1f7d45" stroke-width="1.2" />
<circle cx="420.04" cy="296.94" r="1.6" fill="#1f7d45"/>
<polyline points="327.20,361.38 336.19,358.83 348.16,352.45 357.15,349.26 369.13,342.24 378.12,336.50 390.09,328.21 399.08,321.51 411.06,310.21 420.04,297.39 432.02,288.39 441.01,276.21" fill="none" stroke="#1a1a1a" stroke-width="1.4" stroke-linejoin="round" />
<circle cx="327.20" cy="361.38" r="1.7" fill="#1a1a1a"/>
<line x1="336.19" y1="357.23" x2="336.19" y2="360.42" stroke="#1a1a1a" stroke-width="1.3" />
<line x1="334.29" y1="357.23" x2="338.08" y2="357.23" stroke="#1a1a1a" stroke-width="1.3" />
<line x1="334.29" y1="360.42" x2="338.08" y2="360.42" stroke="#1a1a1a" stroke-width="1.3" />
<circle cx="336.19" cy="358.83" r="1.7" fill="#1a1a1a"/>
<line x1="348.16" y1="349.26" x2="348.16" y2="355.64" stroke="#1a1a1a" stroke-width="1.3" />
<line x1="346.26" y1="349.26" x2="350.06" y2="349.26" stroke="#1a1a1a" stroke-width="1.3" />
<line x1="346.26" y1="355.64" x2="350.06" y2="355.64" stroke="#1a1a1a" stroke-width="1.3" />
<circle cx="348.16" cy="352.45" r="1.7" fill="#1a1a1a"/>
<line x1="357.15" y1="346.71" x2="357.15" y2="351.81" stroke="#1a1a1a" stroke-width="1.3" />
<line x1="355.25" y1="346.71" x2="359.05" y2="346.71" stroke="#1a1a1a" stroke-width="1.3" />
<line x1="355.25" y1="351.81" x2="359.05" y2="351.81" stroke="#1a1a1a" stroke-width="1.3" />
<circle cx="357.15" cy="349.26" r="1.7" fill="#1a1a1a"/>
<line x1="369.13" y1="338.41" x2="369.13" y2="346.07" stroke="#1a1a1a" stroke-width="1.3" />
<line x1="367.23" y1="338.41" x2="371.03" y2="338.41" stroke="#1a1a1a" stroke-width="1.3" />
<line x1="367.23" y1="346.07" x2="371.03" y2="346.07" stroke="#1a1a1a" stroke-width="1.3" />
<circle cx="369.13" cy="342.24" r="1.7" fill="#1a1a1a"/>
<line x1="378.12" y1="331.40" x2="378.12" y2="341.60" stroke="#1a1a1a" stroke-width="1.3" />
<line x1="376.22" y1="331.40" x2="380.01" y2="331.40" stroke="#1a1a1a" stroke-width="1.3" />
<line x1="376.22" y1="341.60" x2="380.01" y2="341.60" stroke="#1a1a1a" stroke-width="1.3" />
<circle cx="378.12" cy="336.50" r="1.7" fill="#1a1a1a"/>
<line x1="390.09" y1="320.55" x2="390.09" y2="335.86" stroke="#1a1a1a" stroke-width="1.3" />
<line x1="388.19" y1="320.55" x2="391.99" y2="320.55" stroke="#1a1a1a" stroke-width="1.3" />
<line x1="388.19" y1="335.86" x2="391.99" y2="335.86" stroke="#1a1a1a" stroke-width="1.3" />
<circle cx="390.09" cy="328.21" r="1.7" fill="#1a1a1a"/>
<line x1="399.08" y1="315.76" x2="399.08" y2="327.25" stroke="#1a1a1a" stroke-width="1.3" />
<line x1="397.18" y1="315.76" x2="400.98" y2="315.76" stroke="#1a1a1a" stroke-width="1.3" />
<line x1="397.18" y1="327.25" x2="400.98" y2="327.25" stroke="#1a1a1a" stroke-width="1.3" />
<circle cx="399.08" cy="321.51" r="1.7" fill="#1a1a1a"/>
<line x1="411.06" y1="300.33" x2="411.06" y2="320.10" stroke="#1a1a1a" stroke-width="1.3" />
<line x1="409.16" y1="300.33" x2="412.96" y2="300.33" stroke="#1a1a1a" stroke-width="1.3" />
<line x1="409.16" y1="320.10" x2="412.96" y2="320.10" stroke="#1a1a1a" stroke-width="1.3" />
<circle cx="411.06" cy="310.21" r="1.7" fill="#1a1a1a"/>
<line x1="420.04" y1="287.50" x2="420.04" y2="307.28" stroke="#1a1a1a" stroke-width="1.3" />
<line x1="418.14" y1="287.50" x2="421.94" y2="287.50" stroke="#1a1a1a" stroke-width="1.3" />
<line x1="418.14" y1="307.28" x2="421.94" y2="307.28" stroke="#1a1a1a" stroke-width="1.3" />
<circle cx="420.04" cy="297.39" r="1.7" fill="#1a1a1a"/>
<line x1="432.02" y1="276.27" x2="432.02" y2="300.52" stroke="#1a1a1a" stroke-width="1.3" />
<line x1="430.12" y1="276.27" x2="433.92" y2="276.27" stroke="#1a1a1a" stroke-width="1.3" />
<line x1="430.12" y1="300.52" x2="433.92" y2="300.52" stroke="#1a1a1a" stroke-width="1.3" />
<circle cx="432.02" cy="288.39" r="1.7" fill="#1a1a1a"/>
<line x1="441.01" y1="263.13" x2="441.01" y2="289.29" stroke="#1a1a1a" stroke-width="1.3" />
<line x1="439.11" y1="263.13" x2="442.91" y2="263.13" stroke="#1a1a1a" stroke-width="1.3" />
<line x1="439.11" y1="289.29" x2="442.91" y2="289.29" stroke="#1a1a1a" stroke-width="1.3" />
<circle cx="441.01" cy="276.21" r="1.7" fill="#1a1a1a"/>
<line x1="345.30" y1="206.90" x2="353.70" y2="206.90" stroke="#1a1a1a" stroke-width="1.2" />
<circle cx="349.50" cy="206.90" r="1.7" fill="#1a1a1a"/>
<text x="360.00" y="209.80" font-size="8.27" text-anchor="start" font-weight="normal" fill="#1c1c1c" >Vehicle</text>
<line x1="345.30" y1="216.07" x2="353.70" y2="216.07" stroke="#d82830" stroke-width="1.2" />
<circle cx="349.50" cy="216.07" r="1.7" fill="#d82830"/>
<text x="360.00" y="218.97" font-size="8.27" text-anchor="start" font-weight="normal" fill="#1c1c1c" >SYD985 3 mg/kg</text>
<line x1="345.30" y1="225.24" x2="353.70" y2="225.24" stroke="#8a8a8a" stroke-width="1.2" />
<polygon points="349.50,227.11 351.37,223.88 347.63,223.88" fill="#8a8a8a"/>
<text x="360.00" y="228.14" font-size="8.27" text-anchor="start" font-weight="normal" fill="#1c1c1c" >Isotype control ADC 3 mg/kg</text>
<line x1="345.30" y1="234.41" x2="353.70" y2="234.41" stroke="#1f7d45" stroke-width="1.2" />
<circle cx="349.50" cy="234.41" r="1.7" fill="#1f7d45"/>
<text x="360.00" y="237.31" font-size="8.27" text-anchor="start" font-weight="normal" fill="#1c1c1c" >Trastuzumab&#160; 100 mg/kg</text>
<line x1="345.30" y1="243.58" x2="353.70" y2="243.58" stroke="#5e2d86" stroke-width="1.2" />
<polygon points="349.50,241.71 351.37,244.94 347.63,244.94" fill="#5e2d86"/>
<text x="360.00" y="246.48" font-size="8.27" text-anchor="start" font-weight="normal" fill="#1c1c1c" >Trastuzumab 100 mg/kg + SYD985 3 mg/kg</text>
</svg>
</body></html>
